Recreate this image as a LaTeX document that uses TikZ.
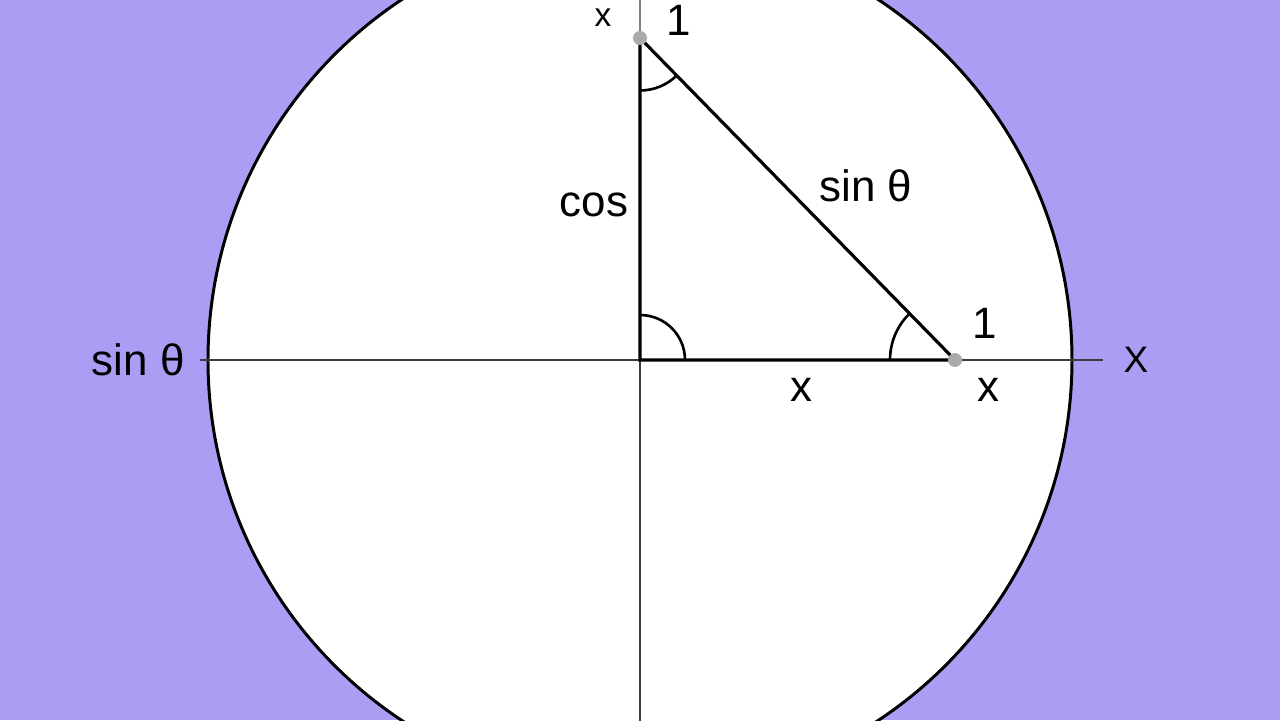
\documentclass[tikz,border=0pt]{standalone}
\usepackage{fontspec}
\setmainfont{Liberation Sans}
\usetikzlibrary{angles}
\definecolor{bgpurple}{RGB}{172,156,243}
\definecolor{axisgray}{RGB}{60,60,60}
\definecolor{dotgray}{RGB}{170,170,170}
\begin{document}
\begin{tikzpicture}[every node/.style={font=\fontsize{25}{30}\selectfont}]
        \clip (-12.8,-7.2) rectangle (12.8,7.2);
        \fill[bgpurple] (-12.8,-7.2) rectangle (12.8,7.2);
        \coordinate (C) at (0,0);
        \draw[line width=1.7pt, fill=white] (C) circle (8.64);

        \tikzstyle{ax}=[line width=1.1pt, axisgray]
        \tikzstyle{side}=[line width=1.8pt, black]
        \coordinate (O) at (0,0);
        \coordinate (A) at (0,6.44);
        \coordinate (B) at (6.3,0);
        \coordinate (L) at (-8.8,0);
        \coordinate (R) at (9.26,0);
        \coordinate (T) at (0,7.3);
        \coordinate (D) at (0,-7.3);

        \draw[ax] (L)--(R);
        \draw[ax, gray] (A)--(T);
        \draw[ax] (O)--(D);
        \draw[side] (A)--(O)--(B)--cycle;

        \pic[draw, line width=1.5pt, angle radius=0.9cm] {angle=B--O--A};
        \pic[draw, line width=1.5pt, angle radius=1.05cm] {angle=O--A--B};
        \pic[draw, line width=1.5pt, angle radius=1.3cm] {angle=A--B--O};

        \fill[dotgray] (A) circle (0.14);
        \fill[dotgray] (B) circle (0.14);

        \node[font=\fontsize{19}{20}\selectfont, inner sep=0pt] (XT) at (-0.74,6.84) {x};
        \node (NT) at (0.78,6.8) {1};
        \node (COS) at (-0.92,3.1) {cos};
        \node (SH) at (4.52,3.48) {sin θ};
        \node (NR) at (6.9,0.74) {1};
        \node (XM) at (3.22,-0.6) {x};
        \node (XR) at (6.96,-0.6) {x};
        \node[font=\fontsize{21}{25}\selectfont] (XX) at (9.92,0.0) {X};
        \node[anchor=east, inner sep=0pt] (SL) at (-9.1,0) {sin θ};
\end{tikzpicture}
\end{document}
